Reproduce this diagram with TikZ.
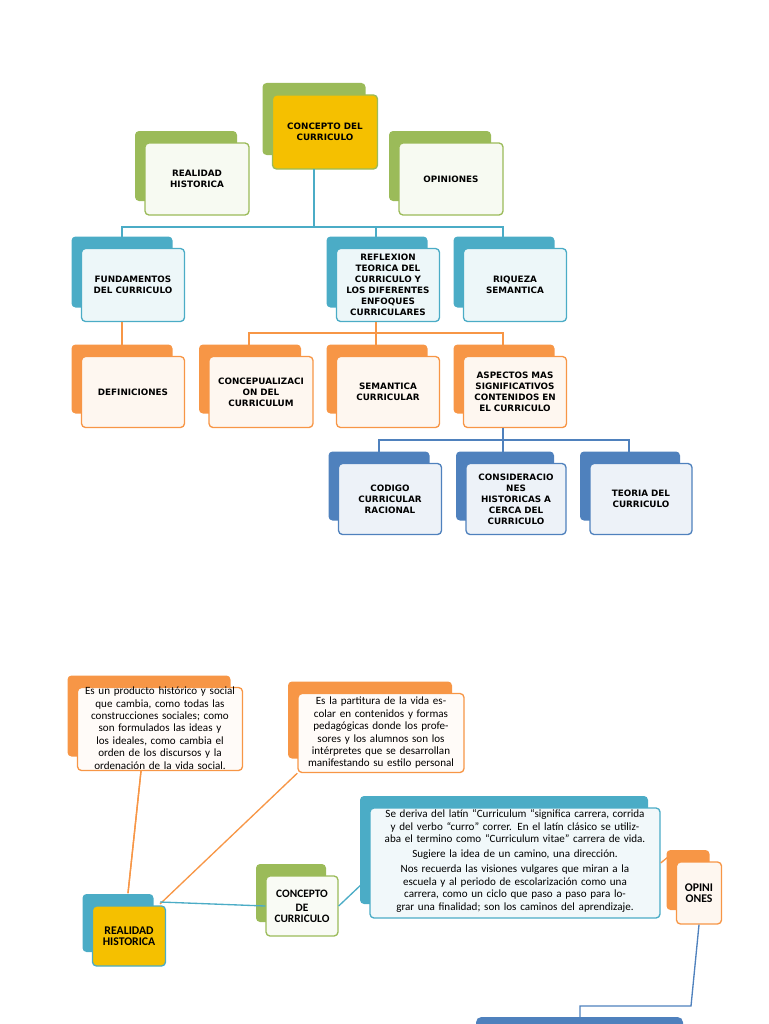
\documentclass[tikz,border=0pt]{standalone}
\usepackage{fontspec}
\setmainfont{DejaVu Sans}
\newfontfamily\bodyf{Carlito}
\definecolor{cgreen}{HTML}{9BBB59}
\definecolor{cteal}{HTML}{4BACC6}
\definecolor{corange}{HTML}{F79646}
\definecolor{cblue}{HTML}{4F81BD}
\definecolor{cgold}{HTML}{F5C000}
\newcommand\mycard[8]{% name, cx, cy, w, h, colour, fill, text
 \fill[#6, rounded corners=3pt] ({#2-#4/2-10},{#3-#5/2-12}) rectangle ({#2+#4/2-12},{#3+#5/2-14});
 \node[card, draw=#6, fill=#7, minimum width={#4*0.75pt}, minimum height={#5*0.75pt}, text width={(#4-8)*0.75pt}] (#1) at (#2,#3) {#8};}
\begin{document}
\begin{tikzpicture}[x=0.75pt,y=-0.75pt,
  card/.style={line width=1pt, rounded corners=3pt, align=center, inner sep=1pt,
    font=\fontsize{6.6}{8.2}\selectfont\bfseries},
  small/.style={font=\bodyf\fontsize{8.3}{9.3}\selectfont\mdseries},
  tl/.style={draw=cteal, line width=1pt},
  ol/.style={draw=corange, line width=1pt},
  bl/.style={draw=cblue, line width=1pt}]
\useasboundingbox (0,0) rectangle (768,1024);
% top tree
\mycard{conc}{325}{132}{105}{74}{cgreen}{cgold}{CONCEPTO DEL\\CURRICULO}
\mycard{real}{197}{179}{104}{72}{cgreen}{cgreen!8}{REALIDAD\\HISTORICA}
\mycard{opin}{451}{179}{104}{72}{cgreen}{cgreen!8}{OPINIONES}
\mycard{fund}{133}{285}{103}{73}{cteal}{cteal!10}{FUNDAMENTOS\\DEL CURRICULO}
\mycard{refl}{388}{285}{103}{73}{cteal}{cteal!10}{REFLEXION\\TEORICA DEL\\CURRICULO Y\\LOS DIFERENTES\\ENFOQUES\\CURRICULARES}
\mycard{riq}{515}{285}{103}{73}{cteal}{cteal!10}{RIQUEZA\\SEMANTICA}
\mycard{defi}{133}{392}{103}{71}{corange}{corange!8}{DEFINICIONES}
\mycard{concu}{261}{392}{104}{71}{corange}{corange!8}{CONCEPUALIZACI\\ON DEL\\CURRICULUM}
\mycard{sema}{388}{392}{103}{71}{corange}{corange!8}{SEMANTICA\\CURRICULAR}
\mycard{aspe}{515}{392}{103}{71}{corange}{corange!8}{ASPECTOS MAS\\SIGNIFICATIVOS\\CONTENIDOS EN\\EL CURRICULO}
\mycard{codi}{390}{499}{103}{71}{cblue}{cblue!10}{CODIGO\\CURRICULAR\\RACIONAL}
\mycard{cons}{516}{499}{100}{71}{cblue}{cblue!10}{CONSIDERACIO\\NES\\HISTORICAS A\\CERCA DEL\\CURRICULO}
\mycard{teor}{641}{499}{102}{71}{cblue}{cblue!10}{TEORIA DEL\\CURRICULO}
\draw[tl] (314,169) -- (314,227);
\draw[tl] (122,238) -- (122,227) -- (503,227) -- (503,238);
\draw[tl] (376,227) -- (376,238);
\draw[ol] (122,322) -- (122,345);
\draw[ol] (376,322) -- (376,333);
\draw[ol] (249,345) -- (249,333) -- (503,333) -- (503,345);
\draw[ol] (376,333) -- (376,345);
\draw[bl] (503,428) -- (503,440);
\draw[bl] (379,452) -- (379,440) -- (629,440) -- (629,452);
\draw[bl] (503,440) -- (503,452);
% bottom map
\mycard{b1}{160}{729}{165}{83}{corange}{corange!4}{}
\node[small, text width=120pt, align=center] at (160,728) {Es un producto histórico y social que cambia, como todas las construcciones sociales; como son formulados las ideas y los ideales, como cambia el orden de los discursos y la ordenación de la vida social.};
\mycard{b2}{381}{733}{166}{79}{corange}{corange!4}{}
\node[small, text width=122pt, align=center] at (381,733) {Es la partitura de la vida escolar en contenidos y formas pedagógicas donde los profesores y los alumnos son los intérpretes que se desarrollan manifestando su estilo personal};
\mycard{b3}{515}{863}{290}{110}{cteal}{cteal!8}{}
\node[small, text width=214pt, align=center] at (515,861) {Se deriva del latín “Curriculum “significa carrera, corrida y del verbo “curro” correr. En el latín clásico se utilizaba el termino como “Curriculum vitae” carrera de vida.\\[2pt]
Sugiere la idea de un camino, una dirección.\\[2pt]
Nos recuerda las visiones vulgares que miran a la escuela y al periodo de escolarización como una carrera, como un ciclo que paso a paso para lograr una finalidad; son los caminos del aprendizaje.};
\mycard{cc}{302}{906}{72}{60}{cgreen}{cgreen!6}{\bodyf\bfseries\fontsize{8.5}{10.5}\selectfont CONCEPTO\\DE\\CURRICULO}
\mycard{rh}{129}{936}{73}{60}{cteal}{cgold}{\bodyf\bfseries\fontsize{8.8}{10.5}\selectfont REALIDAD\\HISTORICA}
\mycard{op}{699}{893}{45}{62}{corange}{corange!8}{\bodyf\bfseries\fontsize{8.8}{10.5}\selectfont OPINI\\ONES}
\fill[cblue, rounded corners=4pt] (476,1017) rectangle (683,1040);
\coordinate (bt) at (580,1017);
\draw[ol] (rh.north) ++(-1,-12) coordinate (rt) -- (b1.south -| 141,0);
\draw[ol] (128,893) -- (141,771);
\draw[ol] (160,904) -- (b2.south west);
\draw[tl] (160,902) -- (cc.west);
\draw[tl] (cc.east) -- (364,882);
\draw[ol] (b3.east) -- (668,857);
\draw[bl] (op.south) -- (691,1006) -- (580,1006) -- (bt);
\end{tikzpicture}
\end{document}
